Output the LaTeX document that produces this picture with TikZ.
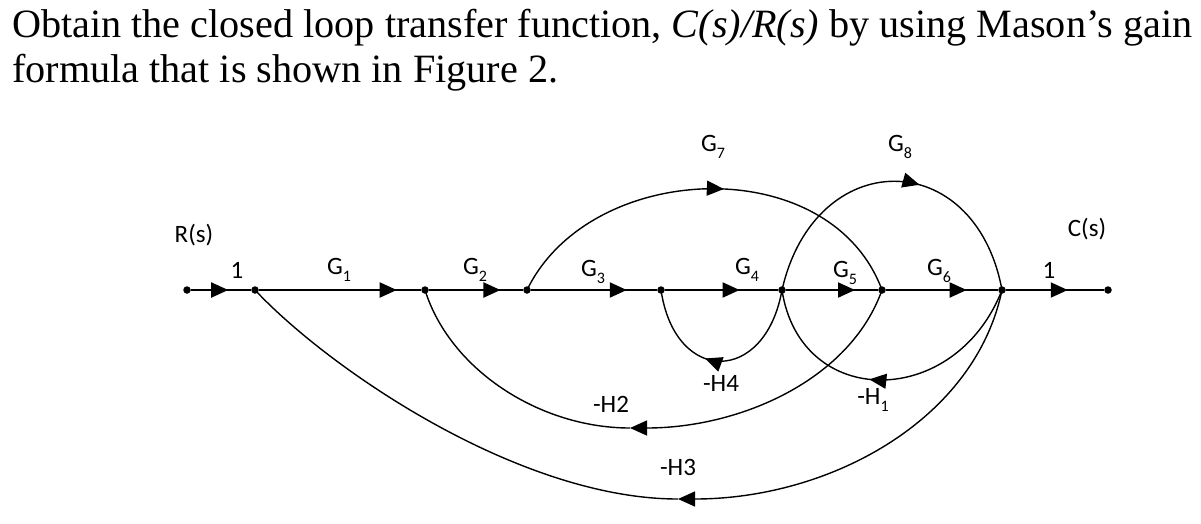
\documentclass[tikz,border=0pt]{standalone}
\usepackage{fontspec}
\setmainfont{Liberation Serif}
\newfontfamily\labfont{Carlito}
\usetikzlibrary{arrows.meta,decorations.markings}
\newcommand\sbs[1]{\raisebox{-0.28em}{\fontsize{16}{16}\selectfont #1}}
\tikzset{
  dot/.style={circle,fill=black,inner sep=0pt,minimum size=7.5pt},
  lab/.style={font=\labfont\fontsize{25}{25}\selectfont,inner sep=0pt},
  mainln/.style={line width=1.9pt},
  curve/.style={line width=1.4pt},
  arr/.style={postaction={decorate},decoration={markings,mark=at position #1 with {\arrow{Triangle[length=17pt,width=15pt]}}}},
  tipend/.style={-{Triangle[length=17pt,width=15pt]}},
  head/.style={anchor=base west,inner sep=0pt,font=\fontsize{40.2}{45}\selectfont}
}
\begin{document}
\begin{tikzpicture}[x=1pt,y=-1pt]
\useasboundingbox (0,0) rectangle (1201,523);
% heading
\node[head] (t1) at (12,37) {Obtain the closed loop transfer function, \textit{C(s)/R(s)} by using Mason’s gain};
\node[head] (t2) at (12,82) {formula that is shown in Figure 2.};
% nodes
\node[dot] (n0) at (187,290) {};
\node[dot] (n1) at (255,290) {};
\node[dot] (n2) at (425,290) {};
\node[dot] (n3) at (527,290) {};
\node[dot] (n4) at (661,290) {};
\node[dot] (n5) at (782,290) {};
\node[dot] (n6) at (882,290) {};
\node[dot] (n7) at (1002,290) {};
\node[dot] (n8) at (1108,290) {};
% main forward line
\draw[mainln,arr=0.62] (n0) -- (n1);
\draw[mainln,arr=0.85] (n1) -- (n2);
\draw[mainln,arr=0.76] (n2) -- (n3);
\draw[mainln,arr=0.76] (n3) -- (n4);
\draw[mainln,arr=0.66] (n4) -- (n5);
\draw[mainln,arr=0.75] (n5) -- (n6);
\draw[mainln,arr=0.72] (n6) -- (n7);
\draw[mainln,arr=0.63] (n7) -- (n8);
% forward branches
\draw[curve,arr=0.54] (n3.center) .. controls (590,160) and (830,150) .. (n6.center);
\draw[curve,arr=0.58] (n5.center) .. controls (815,145) and (975,145) .. (n7.center);
% feedback loops
\draw[curve,arr=0.58] (n5.center) .. controls (765,385) and (675,385) .. (n4.center);
\draw[curve,arr=0.56] (n7.center) .. controls (955,410) and (800,410) .. (n5.center);
\coordinate (b2) at (630,428);
\draw[curve,tipend] (n6.center) .. controls (850,380) and (740,428) .. (b2);
\draw[curve] (b2) .. controls (540,428) and (450,370) .. (n2.center);
\coordinate (b3) at (678,499);
\draw[curve,tipend] (n7.center) .. controls (975,420) and (830,499) .. (b3);
\draw[curve] (b3) .. controls (520,499) and (330,370) .. (n1.center);
% labels
\node[lab] (lR) at (194,235) {R(s)};
\node[lab] (lC) at (1087,229) {C(s)};
\node[lab] (l1a) at (237,270) {1};
\node[lab] (lg1) at (339,270) {G\sbs{1}};
\node[lab] (lg2) at (475,270) {G\sbs{2}};
\node[lab] (lg3) at (593,272) {G\sbs{3}};
\node[lab] (lg4) at (747,270) {G\sbs{4}};
\node[lab] (lg5) at (845,273) {G\sbs{5}};
\node[lab] (lg6) at (939,271) {G\sbs{6}};
\node[lab] (l1b) at (1049,270) {1};
\node[lab] (lg7) at (713,147) {G\sbs{7}};
\node[lab] (lg8) at (900,147) {G\sbs{8}};
\node[lab] (lh4) at (721,383) {-H4};
\node[lab] (lh1) at (873,400) {-H\sbs{1}};
\node[lab] (lh2) at (611,404) {-H2};
\node[lab] (lh3) at (678,467) {-H3};
\end{tikzpicture}
\end{document}
